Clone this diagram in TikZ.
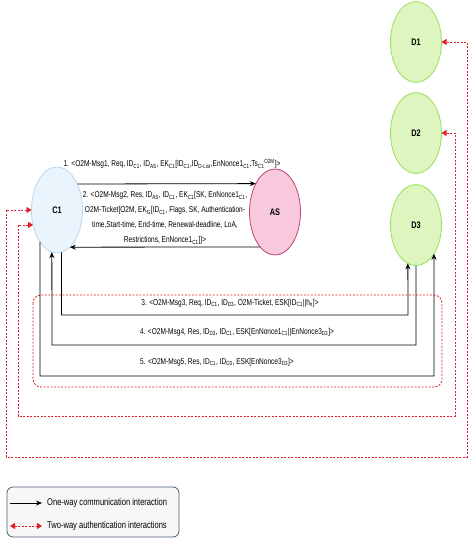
\documentclass[tikz,border=0pt]{standalone}
\usepackage{fontspec}
\setmainfont{Liberation Sans}[FakeStretch=0.77]
\usetikzlibrary{arrows.meta,shapes.geometric}
\definecolor{c1fill}{HTML}{EAF4FC}
\definecolor{c1line}{HTML}{B9D6EE}
\definecolor{asfill}{HTML}{F8C8DC}
\definecolor{asline}{HTML}{B8466F}
\definecolor{dfill}{HTML}{DDF5BF}
\definecolor{dline}{HTML}{9ADF5A}
\definecolor{authred}{HTML}{E41E26}
\definecolor{legfill}{HTML}{F7F7F7}
\definecolor{legline}{HTML}{4A5D73}
\newcommand\sbs[1]{\textsubscript{#1}}
\newcommand\sps[1]{\textsuperscript{#1}}
\tikzset{
  ell/.style={ellipse, inner sep=0pt, outer sep=0pt, line width=0.8pt,
    font=\bfseries\fontsize{9.5}{10}\selectfont},
  cnode/.style={ell, minimum width=51pt, minimum height=86pt, draw=c1line, fill=c1fill},
  asnode/.style={ell, minimum width=51pt, minimum height=86pt, draw=asline, fill=asfill},
  dnode/.style={ell, minimum width=51pt, minimum height=81pt, draw=dline, fill=dfill},
  msg/.style={font=\fontsize{8.5}{15}\selectfont, inner sep=0pt, align=center},
  legtext/.style={font=\fontsize{9.8}{10}\selectfont, inner sep=0pt, anchor=west},
  arr/.style={draw=black, line width=0.8pt, -{Stealth[length=6pt,width=5pt]}},
  authln/.style={draw=authred, line width=0.8pt, dash pattern=on 2pt off 1.5pt,
    {Triangle[length=5pt,width=6pt,fill=authred]}-{Triangle[length=5pt,width=6pt,fill=authred]}},
  authbox/.style={draw=authred, line width=0.8pt, dash pattern=on 2pt off 1.5pt, rounded corners=8pt},
  legbox/.style={draw=legline, fill=legfill, line width=0.8pt, rounded corners=6pt}
}
\begin{document}
\begin{tikzpicture}[x=1pt,y=-1pt]
\useasboundingbox (0,0) rectangle (474,543);

% nodes
\node[cnode]  (C1) at (57,210)  {C1};
\node[asnode] (AS) at (275,212) {AS};
\node[dnode]  (D1) at (416,42)  {D1};
\node[dnode]  (D2) at (416,133) {D2};
\node[dnode]  (D3) at (416,225) {D3};

% dashed grouping box around messages 3-5
\draw[authbox] (33,295) rectangle (442,387);

% two-way authentication loops
\coordinate (oL) at (6,457);
\coordinate (oR) at (467,457);
\coordinate (iL) at (18,416);
\coordinate (iR) at (455,416);
\draw[authln] (C1.180) -| (oL) -- (oR) |- (D1.0);
\draw[authln] (C1.212.1) -| (iL) -- (iR) |- (D2.0);

% messages C1 <-> AS
\draw[arr] (C1.52) -- (AS.124.65);
\draw[arr] (AS.247.1) -- (C1.289.4);

% messages C1 <-> D3
\coordinate (m3) at (408,315);
\coordinate (m4) at (52,345);
\coordinate (m5) at (434,376);
\draw[arr] (C1.276.76) |- (m3) -- (D3.258.25);
\draw[arr] (D3.270) |- (m4) -- (C1.263.24);
\draw[arr] (C1.242.05) |- (m5) -- (D3.302.1);

% labels
\node[msg] (L1) at (172,164) {1. <O2M-Msg1, Req, ID\sbs{C1}, ID\sbs{AS}, EK\sbs{C1}[ID\sbs{C1},ID\sbs{D-List},EnNonce1\sbs{C1},Ts\sbs{C1}\sps{O2M}]>};
\node[msg] (L2) at (165,218) {2. <O2M-Msg2, Res, ID\sbs{AS}, ID\sbs{C1}, EK\sbs{C1}[SK, EnNonce1\sbs{C1},\\
O2M-Ticket[O2M, EK\sbs{G}[ID\sbs{C1}, Flags, SK, Authentication-\\
time,Start-time, End-time, Renewal-deadline, LoA,\\
Restrictions, EnNonce1\sbs{C1}]]>};
\node[msg] (L3) at (230,303) {3. <O2M-Msg3, Req, ID\sbs{C1}, ID\sbs{D3}, O2M-Ticket, ESK[ID\sbs{C1}||h\sbs{n}]>};
\node[msg] (L4) at (237,332) {4. <O2M-Msg4, Res, ID\sbs{D3}, ID\sbs{C1}, ESK[EnNonce1\sbs{C1}||EnNonce3\sbs{D3}]>};
\node[msg] (L5) at (217,362) {5. <O2M-Msg5, Res, ID\sbs{C1}, ID\sbs{D3}, ESK[EnNonce3\sbs{D3}]>};

% legend
\draw[legbox] (7,487) rectangle (179,537);
\coordinate (la1) at (10,503);
\coordinate (lb1) at (42,503);
\coordinate (la2) at (10,526);
\coordinate (lb2) at (42,526);
\draw[arr] (la1) -- (lb1);
\draw[authln] (la2) -- (lb2);
\node[legtext] (T1) at (47,503) {One-way communication interaction};
\node[legtext] (T2) at (47,526) {Two-way authentication interactions};
\end{tikzpicture}
\end{document}
